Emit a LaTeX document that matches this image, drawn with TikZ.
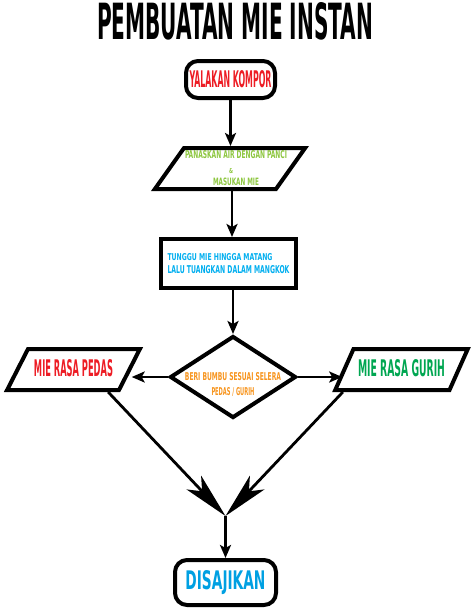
\documentclass[tikz,border=0pt]{standalone}
\usepackage{fontspec}
\usepackage{graphicx}
\usetikzlibrary{arrows.meta,shapes.geometric}

\newfontfamily\flowfont{DejaVu Sans Condensed Bold}
% squeeze one line of text into a w x h box
\newcommand\fitline[3]{\resizebox{#1pt}{#2pt}{\flowfont #3}}
% text of no size, so that the shape keeps the size it is given
\newcommand\boxtext[2]{\makebox[0pt]{\raisebox{#1}[0pt][0pt]{#2}}}
% body of a parallelogram: #1 wide, 41pt high
\newcommand\iobody[2]{\rule[-20.5pt]{0pt}{41pt}\makebox[#1pt]{#2}}

\definecolor{kompor}{RGB}{237,28,36}
\definecolor{panci}{RGB}{141,198,63}
\definecolor{mangkok}{RGB}{0,174,239}
\definecolor{selera}{RGB}{247,148,29}
\definecolor{gurihgreen}{RGB}{0,166,81}
\definecolor{saji}{RGB}{0,160,226}

\begin{document}
\begin{tikzpicture} [
	x=1pt, y=-1pt,
	terminal/.style = {draw, line width=4pt, rounded corners=12pt, inner sep=0pt},
	process/.style = {draw, line width=4pt, inner sep=0pt},
	io/.style = {draw, line width=4pt, trapezium, inner sep=0pt},
	decision/.style = {draw, line width=4pt, diamond, inner sep=0pt},
	arrow/.style = {line width=2.8pt, -{Stealth[length=13pt, width=11pt, inset=3pt]}},
	merge/.style = {line width=2.8pt, -{Stealth[length=46pt, width=20pt, inset=12pt]}},
]
\useasboundingbox (0,0) rectangle (473,608);

\node (title) at (235,21) {\fitline{276}{37}{PEMBUATAN MIE INSTAN}};

\node [terminal, minimum width=89pt, minimum height=37pt] (kompor) at (230.5,79.5)
	{\color{kompor}\fitline{82}{17}{YALAKAN KOMPOR}};
\node [io, trapezium left angle=54.6, trapezium right angle=125.4] (panci) at (230,168.5)
	{\iobody{92}{\boxtext{-2.5pt}{\hspace*{12pt}\fontsize{6}{12}\selectfont
	 \begin{tabular}{@{}c@{}}
	 \color{panci}\fitline{102}{8}{PANASKAN AIR DENGAN PANCI}\\[3pt]
	 \color{panci}\hspace*{-10pt}\fitline{4}{5}{\&}\\
	 \color{panci}\fitline{46}{7.5}{MASUKAN MIE}
	 \end{tabular}}}};
\node [process, minimum width=135pt, minimum height=49pt, align=left,
	font=\fontsize{6}{13}\selectfont] (mangkok) at (228.5,263.5)
	{\color{mangkok}\fitline{105}{7}{TUNGGU MIE HINGGA MATANG}\\
	 \color{mangkok}\fitline{122}{8}{LALU TUANGKAN DALAM MANGKOK}};
\node [decision, minimum width=126pt, minimum height=82pt] (bumbu) at (233,377)
	{\boxtext{-9.5pt}{\fontsize{6}{15}\selectfont
	 \begin{tabular}{@{}c@{}}
	 \color{selera}\fitline{96}{8}{BERI BUMBU SESUAI SELERA}\\
	 \color{selera}\fitline{43}{8}{PEDAS / GURIH}
	 \end{tabular}}};
\node [io, trapezium left angle=63, trapezium right angle=117] (pedas) at (73.5,369.5)
	{\iobody{91}{\boxtext{-6.5pt}{\color{kompor}\fitline{79}{17}{MIE RASA PEDAS}}}};
\node [io, trapezium left angle=66, trapezium right angle=114] (gurih) at (401.5,369.5)
	{\iobody{96}{\boxtext{-6.5pt}{\color{gurihgreen}\fitline{87}{17}{MIE RASA GURIH}}}};
\coordinate (join) at (225.5,516);
\node [terminal, minimum width=101pt, minimum height=45pt] (saji) at (225.5,582.5)
	{\color{saji}\fitline{80}{19}{DISAJIKAN}};

% connectors
\draw [arrow] (kompor) -- (kompor |- panci.north);
\draw [arrow] ([xshift=2pt]panci.south) -- ([xshift=2pt]panci.south |- mangkok.north);
\draw [arrow] (bumbu |- mangkok.south) -- (bumbu.north);
\draw [arrow] (bumbu.west) -- (pedas.east |- bumbu.west);
\draw [arrow] (bumbu.east) -- (gurih.west |- bumbu.east);
\draw [merge] (pedas.-33) -- (join);
\draw [merge] (gurih.-159) -- (join);
\draw [arrow] (join) -- (saji.north);
\end{tikzpicture}
\end{document}
